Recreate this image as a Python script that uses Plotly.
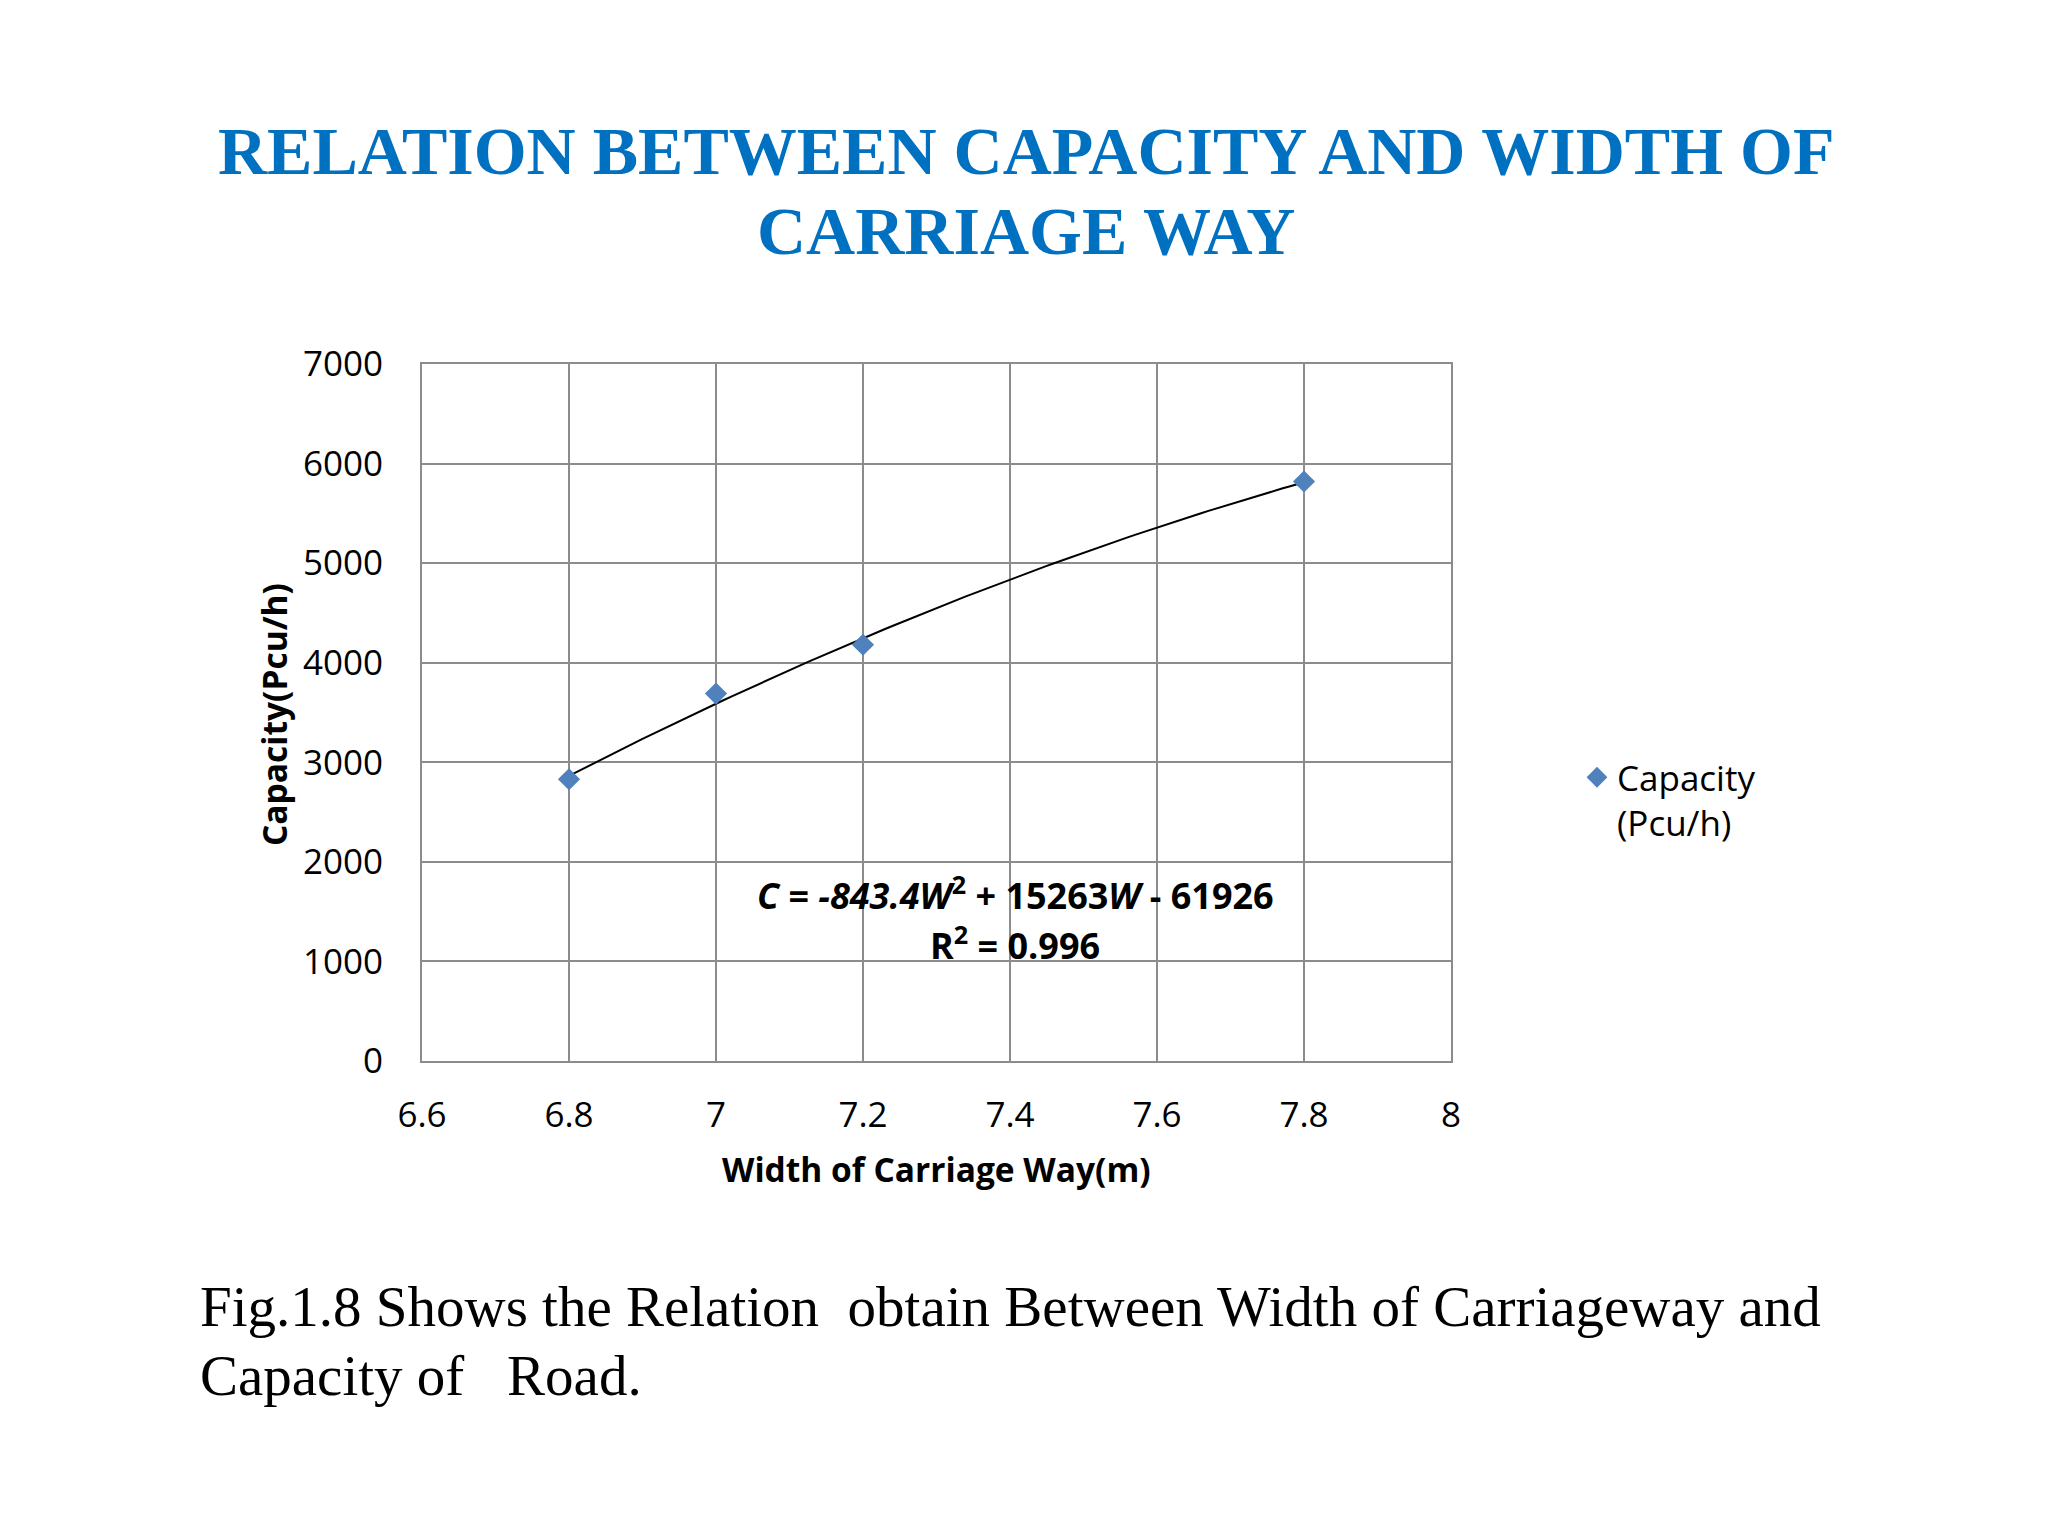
import numpy as np
import plotly.graph_objects as go

# ---- data ----
widths = [6.8, 7.0, 7.2, 7.8]              # Width of carriage way (m)
capacity = [2830, 3690, 4180, 5820]        # Capacity (Pcu/h)
trend_coeffs = [-843.4, 15263, -61926]     # polynomial trendline (order 2)
r_squared = 0.996
x_tickvals = [6.6, 6.8, 7.0, 7.2, 7.4, 7.6, 7.8, 8.0]
x_ticktext = ["6.6", "6.8", "7", "7.2", "7.4", "7.6", "7.8", "8"]
y_tickvals = [0, 1000, 2000, 3000, 4000, 5000, 6000, 7000]

title_lines = ["RELATION BETWEEN CAPACITY AND WIDTH OF", "CARRIAGE WAY"]
caption_lines = ["Fig.1.8 Shows the Relation\u00a0 obtain Between Width of Carriageway and",
                 "Capacity of \u00a0 Road."]

W, H = 2048, 1536
L, R, T, B = 414, 1443, 356, 1053   # plot area pixels


def px(x):
    return (x - L) / (R - L)


def py(y):
    return (B - y) / (B - T)


GRID = "#8c8c8c"
TICKFONT = dict(family="Open Sans", size=35, color="black")

trend_x = np.linspace(min(widths), max(widths), 101)
trend_y = np.polyval(trend_coeffs, trend_x)

fig = go.Figure()
fig.add_trace(go.Scatter(
    x=trend_x, y=trend_y, mode="lines",
    line=dict(color="black", width=2), showlegend=False, hoverinfo="skip"))
fig.add_trace(go.Scatter(
    x=widths, y=capacity, mode="markers", name="Capacity<br>(Pcu/h)",
    marker=dict(symbol="diamond", size=17, color="#4F81BD")))

a, b, c = trend_coeffs
eq_text = (f"<b><i>C</i> = <i>{a:g}W</i><sup>2</sup> + {b:g}<i>W</i> - {abs(c):g}</b>")
r2_text = f"<b>R<sup>2</sup> = {r_squared:g}</b>"

annotations = [
    dict(text=f"<b>{title_lines[0]}</b>", x=px(1018), y=py(143), xref="paper", yref="paper",
         showarrow=False, xanchor="center", yanchor="middle",
         font=dict(family="Liberation Serif", size=68, color="#0070C0")),
    dict(text=f"<b>{title_lines[1]}</b>", x=px(1018), y=py(223), xref="paper", yref="paper",
         showarrow=False, xanchor="center", yanchor="middle",
         font=dict(family="Liberation Serif", size=68, color="#0070C0")),
    dict(text=caption_lines[0], x=px(190), y=py(1298), xref="paper", yref="paper",
         showarrow=False, xanchor="left", yanchor="middle",
         font=dict(family="Liberation Serif", size=57, color="black")),
    dict(text=caption_lines[1], x=px(190), y=py(1367), xref="paper", yref="paper",
         showarrow=False, xanchor="left", yanchor="middle",
         font=dict(family="Liberation Serif", size=57, color="black")),
    dict(text="<b>Width of Carriage Way(m)</b>", x=px(928), y=py(1161), xref="paper", yref="paper",
         showarrow=False, xanchor="center", yanchor="middle",
         font=dict(family="Open Sans", size=33.5, color="black")),
    dict(text="<b>Capacity(Pcu/h)</b>", x=px(266), y=py(707), xref="paper", yref="paper",
         showarrow=False, xanchor="center", yanchor="middle", textangle=-90,
         font=dict(family="Open Sans", size=33.5, color="black")),
    dict(text=eq_text, x=px(1007), y=py(885), xref="paper", yref="paper",
         showarrow=False, xanchor="center", yanchor="middle",
         font=dict(family="Open Sans", size=36, color="black")),
    dict(text=r2_text, x=px(1007), y=py(935), xref="paper", yref="paper",
         showarrow=False, xanchor="center", yanchor="middle",
         font=dict(family="Open Sans", size=36, color="black")),
]

fig.update_layout(
    width=W, height=H,
    margin=dict(l=L, r=W - R, t=T, b=H - B, pad=0),
    paper_bgcolor="white", plot_bgcolor="white",
    annotations=annotations,
    showlegend=True,
    legend=dict(x=px(1569), y=py(740), xanchor="left", yanchor="top",
                valign="top", font=dict(family="Open Sans", size=35, color="black"),
                bgcolor="rgba(0,0,0,0)", tracegroupgap=0),
    xaxis=dict(range=[6.6, 8.0], tickvals=x_tickvals, ticktext=x_ticktext,
               showgrid=True, gridcolor=GRID, gridwidth=2,
               showline=True, linecolor=GRID, linewidth=2, mirror=True,
               zeroline=False, ticks="", ticklabelstandoff=22, tickfont=TICKFONT),
    yaxis=dict(range=[0, 7000], tickvals=y_tickvals,
               showgrid=True, gridcolor=GRID, gridwidth=2,
               showline=True, linecolor=GRID, linewidth=2, mirror=True,
               zeroline=False, ticks="", ticklabelstandoff=30, tickfont=TICKFONT),
)

fig.write_html("out.html")
